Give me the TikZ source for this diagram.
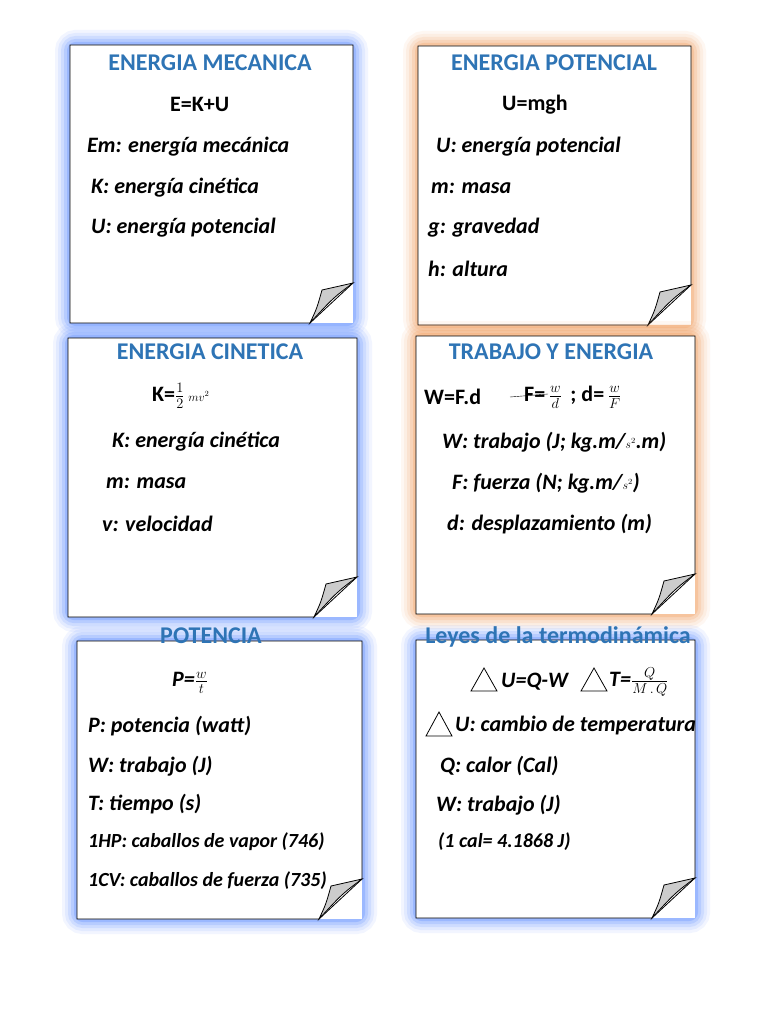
\documentclass[tikz,border=0pt]{standalone}
\usepackage{fontspec}
\setmainfont{Carlito}
\begin{document}
\begin{tikzpicture}[x=1pt,y=-1pt,
  ttl/.style={text=titleblue,font=\fontsize{24}{26}\selectfont\bfseries,inner sep=0},
  txt/.style={anchor=west,font=\fontsize{22}{24}\selectfont\bfseries\itshape,inner sep=0},
  sm/.style={anchor=west,font=\fontsize{20}{22}\selectfont\bfseries\itshape,inner sep=0}]
\definecolor{titleblue}{HTML}{2E74B5}
\definecolor{gblue}{HTML}{5B8CFF}
\definecolor{gorange}{HTML}{F4A060}
\useasboundingbox (0,0) rectangle (768,1024);
\fill[white] (0,0) rectangle (768,1024);
\newcommand{\card}[5]{% x1 y1 x2 y2 color
  \foreach \w/\o in {30/0.08,24/0.1,18/0.14,12/0.2,6/0.3}
    \draw[#5,line width=\w pt,opacity=\o,rounded corners=6] (#1,#2) rectangle (#3,#4);
  \fill[white] (#1,#2) rectangle (#3,#4);
  \draw[black,line width=0.8pt,fill=white] (#1,#2) -- (#3,#2) -- (#3,#4-40) -- (#3-43,#4) -- (#1,#4) -- cycle;
  \draw[black,line width=0.8pt,fill=gray!40] (#3-43,#4) .. controls (#3-36,#4-15) .. (#3-31,#4-33) -- (#3,#4-40) .. controls (#3-20,#4-25) .. (#3-43,#4) -- cycle;
}
\card{70}{45}{353}{323}{gblue}
\card{418}{46}{691}{325}{gorange}
\card{68}{338}{357}{617}{gblue}
\card{416}{336}{695}{614}{gorange}
\card{77}{641}{362}{919}{gblue}
\card{416}{640}{695}{918}{gblue}
% card 1
\node[ttl] (t1) at (210,63) {ENERGIA MECANICA};
\node[txt] (a1) at (170,104) {\upshape E=K+U};
\node[txt] (a2) at (87,147) {Em: energía mecánica};
\node[txt] (a3) at (91,188) {K: energía cinética};
\node[txt] (a4) at (91,228) {U: energía potencial};
% card 2
\node[ttl] (t2) at (554,63) {ENERGIA POTENCIAL};
\node[txt] (b1) at (502,105) {\upshape U=mgh};
\node[txt] (b2) at (436,147) {U: energía potencial};
\node[txt] (b3) at (431,188) {m: masa};
\node[txt] (b4) at (428,228) {g: gravedad};
\node[txt] (b5) at (428,269) {h: altura};
% card 3
\node[ttl] (t3) at (210,352) {ENERGIA CINETICA};
\node[txt] (c1) at (152,396) {\upshape K=$\frac{1}{2}$\,{\fontsize{12}{12}\selectfont$mv^{2}$}};
\node[txt] (c2) at (112,442) {K: energía cinética};
\node[txt] (c3) at (106,483) {m: masa};
\node[txt] (c4) at (102,524) {v: velocidad};
% card 4
\node[ttl] (t4) at (551,352) {TRABAJO Y ENERGIA};
\node[txt] (d1) at (424,397) {\upshape W=F.d};
\node[txt] (d1b) at (524,397) {\upshape F=\,$\frac{w}{d}$\, ; d=\,$\frac{w}{F}$};
\draw (d1b.west) ++(-14,0) -- ++(38,-3);
\node[txt] (d2) at (442,442) {W: trabajo (J; kg.m/{\fontsize{12}{12}\selectfont$s^{2}$}.m)};
\node[txt] (d3) at (452,483) {F: fuerza (N; kg.m/{\fontsize{12}{12}\selectfont$s^{2}$})};
\node[txt] (d4) at (447,524) {d: desplazamiento (m)};
% card 5
\node[ttl] (t5) at (211,636) {POTENCIA};
\node[txt] (e1) at (172,683) {P=$\frac{w}{t}$};
\node[txt] (e2) at (88,726) {P: potencia (watt)};
\node[txt] (e3) at (88,766) {W: trabajo (J)};
\node[txt] (e4) at (88,804) {T: tiempo (s)};
\node[sm] (e5) at (88,842) {1HP: caballos de vapor (746)};
\node[sm] (e6) at (88,881) {1CV: caballos de fuerza (735)};
% card 6
\node[ttl] (t6) at (558,637) {Leyes de la termodinámica};
\draw[line width=0.8pt] (471,691) -- (484,668) -- (497,691) -- cycle;
\draw[line width=0.8pt] (581,691) -- (594,668) -- (607,691) -- cycle;
\draw[line width=0.8pt] (426,736) -- (439,712) -- (452,736) -- cycle;
\node[txt] (f1) at (501,682) {U=Q-W};
\node[txt] (f1b) at (609,682) {T=$\frac{Q}{M\,.\,Q}$};
\node[txt] (f2) at (455,726) {U: cambio de temperatura};
\node[txt] (f3) at (440,766) {Q: calor (Cal)};
\node[txt] (f4) at (436,805) {W: trabajo (J)};
\node[sm] (f5) at (438,842) {(1 cal= 4.1868 J)};
\end{tikzpicture}
\end{document}
